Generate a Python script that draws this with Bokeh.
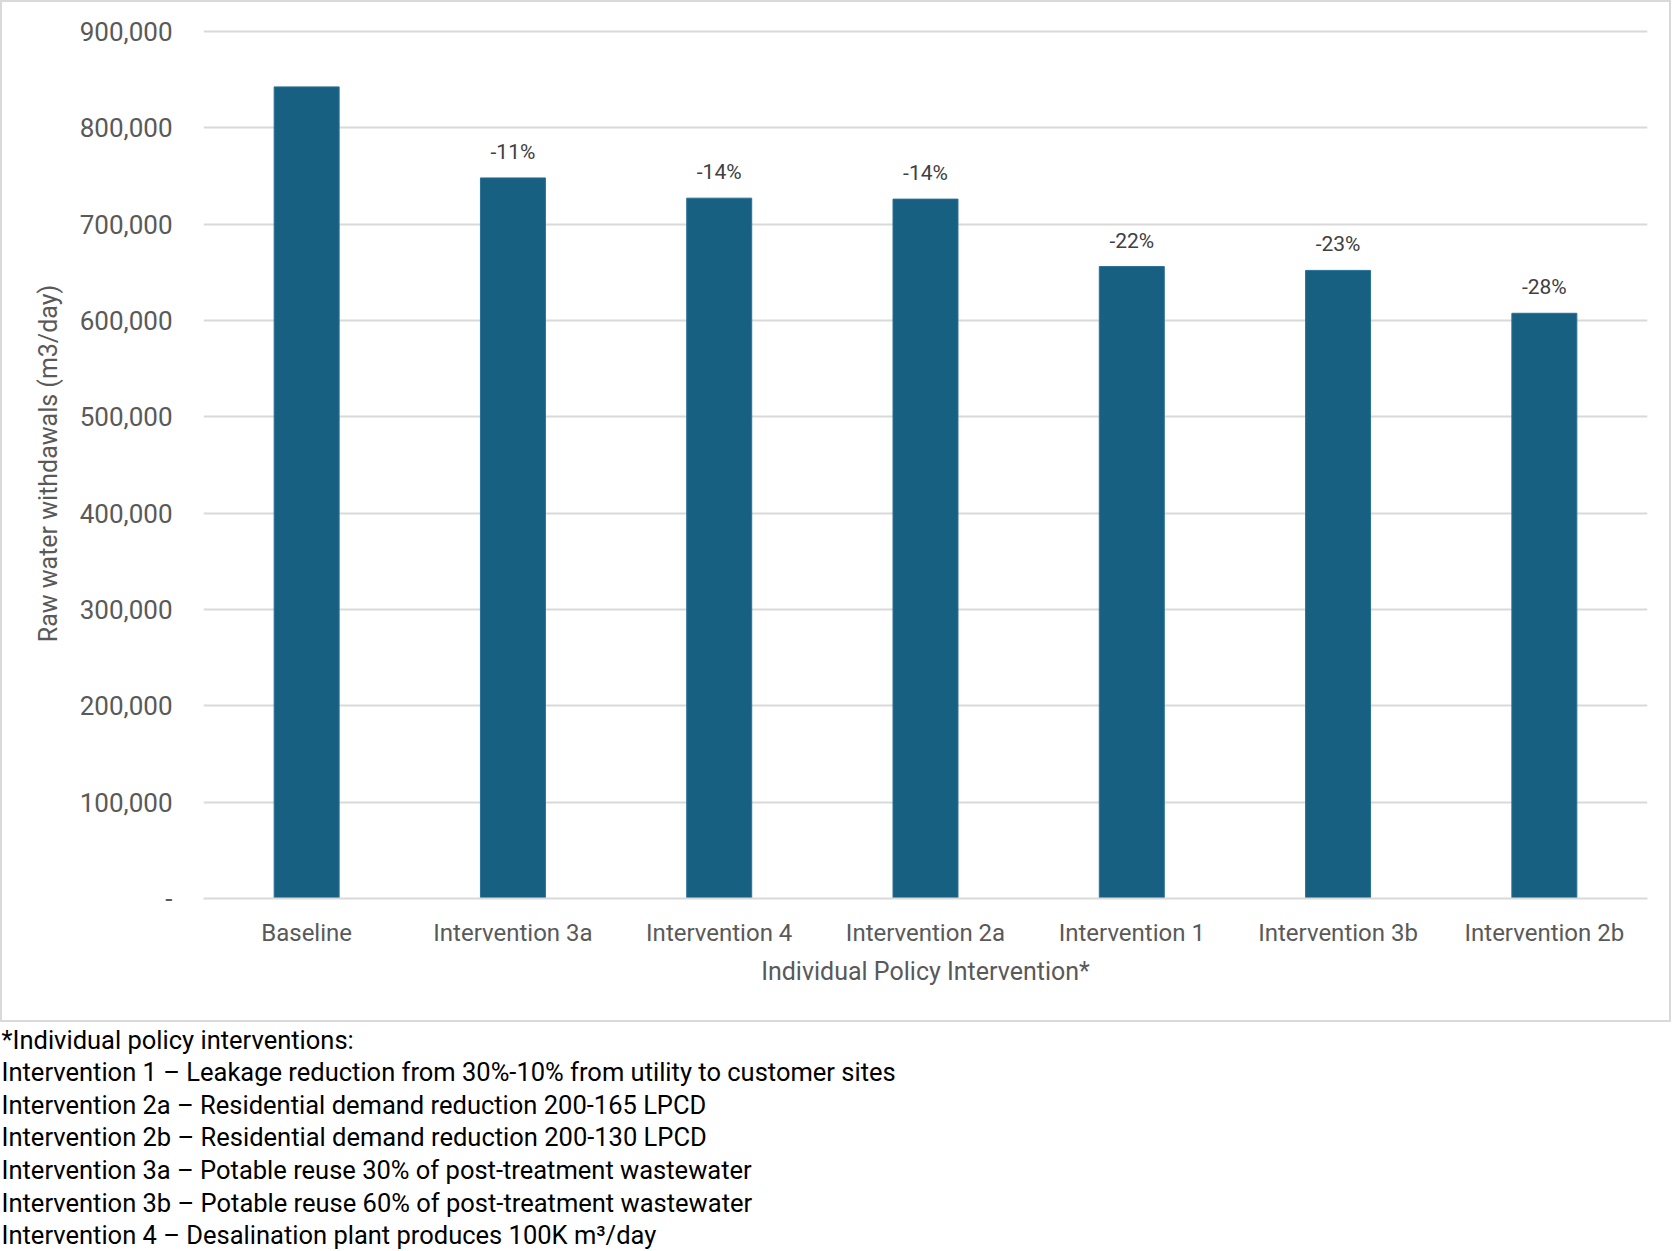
from bokeh.plotting import figure
from bokeh.models import (Range1d, FactorRange, FixedTicker, NumeralTickFormatter,
                          ColumnDataSource, LabelSet, Label)
from bokeh.core.properties import value
from bokeh.embed import file_html
from bokeh.resources import INLINE

# ---------------- data ----------------
categories = ["Baseline", "Intervention 3a", "Intervention 4", "Intervention 2a",
              "Intervention 1", "Intervention 3b", "Intervention 2b"]
withdrawals = [842500, 748000, 727000, 726000, 656000, 652000, 607500]
change_labels = ["", "-11%", "-14%", "-14%", "-22%", "-23%", "-28%"]
y_ticks = [0, 100000, 200000, 300000, 400000, 500000, 600000, 700000, 800000, 900000]
y_title = "Raw water withdawals (m3/day)"
x_title = "Individual Policy Intervention*"
notes = [
    "*Individual policy interventions:",
    "Intervention 1 \u2013 Leakage reduction from 30%-10% from utility to customer sites",
    "Intervention 2a \u2013 Residential demand reduction 200-165 LPCD",
    "Intervention 2b \u2013 Residential demand reduction 200-130 LPCD",
    "Intervention 3a \u2013 Potable reuse 30% of post-treatment wastewater",
    "Intervention 3b \u2013 Potable reuse 60% of post-treatment wastewater",
    "Intervention 4 \u2013 Desalination plant produces 100K m\u00b3/day",
]

# ---------------- layout ----------------
W, H = 1675, 1251
BW = 2                        # border width of the chart box
BOX_W, BOX_H = 1671, 1022     # chart box
OX, OY = BW, BW               # chart canvas origin on the page
CW, CH = BOX_W, BOX_H         # canvas keeps the figure size
FL, FR, FT, FB = 203, 1647, 31, 898   # frame edges on the page (900k at FT, 0 at FB)
YMAX = 900000
EXTRA = 3                     # extra px above the top gridline
FONT = "Roboto"
GRID = "#d9d9d9"
TXT = "#595959"

y_end = YMAX * (FB - (FT - EXTRA)) / (FB - FT)

p = figure(width=BOX_W, height=BOX_H,
           x_range=FactorRange(*categories), y_range=Range1d(0, y_end),
           output_backend="svg", toolbar_location=None,
           min_border_left=FL - OX, min_border_right=OX + CW - FR,
           min_border_top=FT - EXTRA - OY, min_border_bottom=OY + CH - FB,
           styles={"border": "%dpx solid %s" % (BW, GRID), "box-sizing": "border-box"})
p.outline_line_color = None
p.background_fill_color = "white"
p.border_fill_color = "white"

p.vbar(x=categories, top=withdrawals, width=0.315,
       fill_color="#176082", line_color="#2a7196", line_width=1)

# grid
p.xgrid.grid_line_color = None
p.ygrid.ticker = FixedTicker(ticks=y_ticks)
p.ygrid.grid_line_color = GRID
p.ygrid.grid_line_width = 2

# y axis
p.yaxis.ticker = FixedTicker(ticks=y_ticks)
p.yaxis.formatter = NumeralTickFormatter(format="0,0")
p.yaxis.major_label_overrides = {0: "-"}
p.yaxis.axis_line_color = None
p.yaxis.major_tick_line_color = None
p.yaxis.minor_tick_line_color = None
p.yaxis.major_tick_out = 0
p.yaxis.major_tick_in = 0
p.yaxis.major_label_standoff = 31
p.yaxis.major_label_text_font = FONT
p.yaxis.major_label_text_font_size = "26px"
p.yaxis.major_label_text_color = TXT
p.yaxis.axis_label = y_title
p.yaxis.axis_label_text_font = FONT
p.yaxis.axis_label_text_font_size = "25px"
p.yaxis.axis_label_text_font_style = "normal"
p.yaxis.axis_label_text_color = TXT
p.yaxis.axis_label_standoff = 14

# x axis
p.xaxis.axis_line_color = GRID
p.xaxis.axis_line_width = 2
p.xaxis.major_tick_line_color = None
p.xaxis.minor_tick_line_color = None
p.xaxis.major_tick_out = 0
p.xaxis.major_tick_in = 0
p.xaxis.major_label_standoff = 20
p.xaxis.major_label_text_font = FONT
p.xaxis.major_label_text_font_size = "24px"
p.xaxis.major_label_text_color = TXT
p.xaxis.axis_label = x_title
p.xaxis.axis_label_text_font = FONT
p.xaxis.axis_label_text_font_size = "25px"
p.xaxis.axis_label_text_font_style = "normal"
p.xaxis.axis_label_text_color = TXT
p.xaxis.axis_label_standoff = 7

# data labels
lab_src = ColumnDataSource(dict(x=categories[1:], y=withdrawals[1:], t=change_labels[1:]))
p.add_layout(LabelSet(x="x", y="y", text="t", source=lab_src, y_offset=26,
                      text_align="center", text_baseline="middle",
                      text_font=value(FONT), text_font_size=value("21px"),
                      text_color="#404040"))

# ---------------- footnotes (separate root, below the chart box) ----------------
NY0 = BOX_H                   # page y where the notes canvas starts
NH = H - NY0
n = figure(width=W, height=NH, x_range=Range1d(0, W), y_range=Range1d(NH, 0),
           output_backend="svg", toolbar_location=None,
           min_border=0, x_axis_type=None, y_axis_type=None)
n.outline_line_color = None
n.xgrid.grid_line_color = None
n.ygrid.grid_line_color = None
for i, t in enumerate(notes):
    n.add_layout(Label(x=1, y=1039 + 32.6 * i - NY0, text=t,
                       text_align="left", text_baseline="middle",
                       text_font=FONT, text_font_size="25.5px", text_color="#000000"))

open("out.html", "w").write(file_html([p, n], INLINE))
